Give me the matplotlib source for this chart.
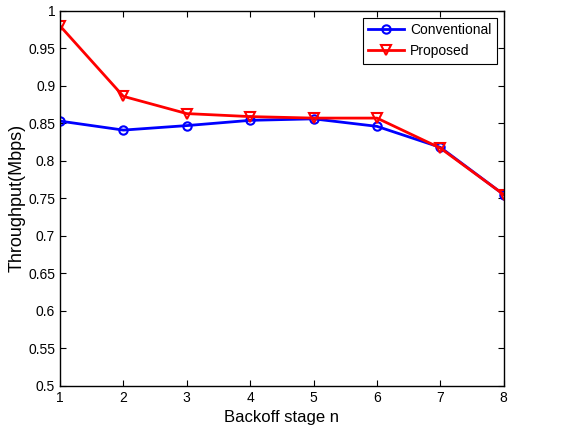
import matplotlib
matplotlib.use('Agg')
import matplotlib.pyplot as plt
import numpy as np

plt.rcParams['font.family'] = ['Liberation Sans', 'DejaVu Sans']

# backoff stages and throughput values (Mbps)
stages = [1, 2, 3, 4, 5, 6, 7, 8]
conventional = [0.853, 0.841, 0.847, 0.854, 0.856, 0.846, 0.818, 0.755]
proposed = [0.980, 0.886, 0.863, 0.859, 0.857, 0.857, 0.817, 0.755]
yticks = [0.5, 0.55, 0.6, 0.65, 0.7, 0.75, 0.8, 0.85, 0.9, 0.95, 1]
ytick_labels = ['0.5', '0.55', '0.6', '0.65', '0.7', '0.75', '0.8', '0.85', '0.9', '0.95', '1']

fig = plt.figure(figsize=(5.66, 4.34), dpi=100)
ax = fig.add_axes([0.106, 0.111, 0.784, 0.864])

ax.plot(stages, conventional, color='#0000ff', lw=2, marker='o', markersize=6,
        markerfacecolor='none', markeredgewidth=1.5, label='Conventional')
ax.plot(stages, proposed, color='#ff0000', lw=2, marker='v', markersize=7,
        markerfacecolor='none', markeredgewidth=1.5, label='Proposed')

ax.set_xlim(1, 8)
ax.set_ylim(0.5, 1)
ax.set_xticks(stages)
ax.set_yticks(yticks)
ax.set_yticklabels(ytick_labels)
ax.tick_params(direction='in', top=True, right=True, labelsize=10, length=4)
for s in ax.spines.values():
    s.set_linewidth(1)

ax.set_xlabel('Backoff stage n', fontsize=12)
ax.set_ylabel('Throughput(Mbps)', fontsize=13, labelpad=2)

leg = ax.legend(loc='upper right', fontsize=10, fancybox=False, framealpha=1,
                edgecolor='black', borderaxespad=0.5, handlelength=2.6,
                labelspacing=0.5, borderpad=0.4, handletextpad=0.4)
leg.get_frame().set_linewidth(0.8)

fig.savefig('out.png', dpi=100)
